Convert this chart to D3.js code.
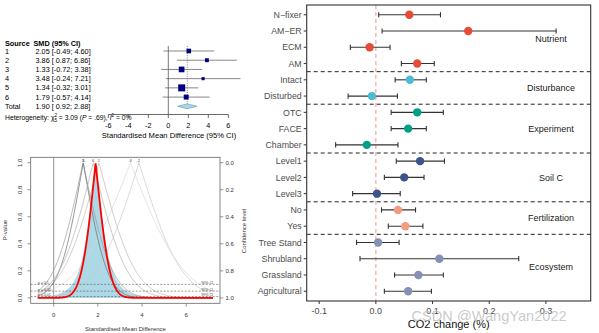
<!DOCTYPE html>
<html>
<head>
<meta charset="utf-8">
<script src="https://cdn.jsdelivr.net/npm/d3@7"></script>
<style>
  html, body { margin: 0; padding: 0; background: #fff; }
  svg { display: block; font-family: "Liberation Sans", Arial, sans-serif; }
</style>
</head>
<body>
<svg id="fig" width="599" height="333"></svg>
<script>
// ---- meta-analysis of six studies (SMD with 95% CI)
const studyLabels = ['1', '2', '3', '4', '5', '6'];
const studySmd  = [2.05, 3.86, 1.33, 3.48, 1.34, 1.79];
const studyLow  = [-0.49, 0.87, -0.72, -0.24, -0.32, -0.57];
const studyHigh = [4.60, 6.86, 3.38, 7.21, 3.01, 4.14];
const pooled = [1.90, 0.92, 2.88];           // estimate, lower, upper
const hetQ = 3.09, hetDf = 5, hetP = '.69', hetI2 = '0%';
const forestTicks = [-6, -4, -2, 0, 2, 4, 6];
const draperyTicks = [0, 2, 4, 6];
const pTicks = [0, 0.2, 0.4, 0.6, 0.8, 1.0];
const pLevels = [0.1, 0.05, 0.01];
const pLevelLabels = ['p = 0.1', 'p = 0.05', 'p = 0.01'];
const ciLevelLabels = ['90% CI', '95% CI', '99% CI'];

// ---- CO2 response by moderator
const categories = ['N\u2212fixer', 'AM\u2212ER', 'ECM', 'AM', 'Intact', 'Disturbed',
  'OTC', 'FACE', 'Chamber', 'Level1', 'Level2', 'Level3', 'No', 'Yes',
  'Tree Stand', 'Shrubland', 'Grassland', 'Agricultural'];
const categoryGroup = [0, 0, 0, 0, 1, 1, 2, 2, 2, 3, 3, 3, 4, 4, 5, 5, 5, 5];
const groupNames = ['Nutrient', 'Disturbance', 'Experiment', 'Soil C', 'Fertilization', 'Ecosystem'];
const groupColors = ['#E64B35', '#4DBBD5', '#00A087', '#3C5488', '#F39B7F', '#8491B4'];
const effect     = [0.059, 0.163, -0.011, 0.073, 0.060, -0.007, 0.073, 0.057, -0.016,
  0.078, 0.050, 0.002, 0.039, 0.052, 0.004, 0.112, 0.075, 0.057];
const effectLow  = [0.005, 0.011, -0.045, 0.045, 0.034, -0.049, 0.027, 0.027, -0.071,
  0.036, 0.015, -0.041, 0.010, 0.022, -0.034, -0.028, 0.033, 0.015];
const effectHigh = [0.114, 0.318, 0.025, 0.103, 0.089, 0.038, 0.119, 0.089, 0.039,
  0.121, 0.085, 0.043, 0.070, 0.083, 0.041, 0.252, 0.119, 0.098];
const effectTicks = [-0.1, 0.0, 0.1, 0.2, 0.3];

const svg = d3.select('#fig');

// standard errors and inverse-variance weights recovered from the CIs
const se = studySmd.map((d, i) => (studyHigh[i] - studyLow[i]) / (2 * 1.96));
const weight = se.map(s => 1 / (s * s));
const pooledSe = (pooled[2] - pooled[1]) / (2 * 1.96);

// ================= forest plot =================
const forest = svg.append('g');
const fx = d3.scaleLinear().domain([-6, 6]).range([108.3, 228.3]);
const fy = d3.scalePoint().domain([...studyLabels, 'Total']).range([51, 106.3]);
const boxSize = d3.scaleSqrt().domain([0, d3.max(weight)]).range([0, 7]);
const fs = 7.3;

forest.append('text').attr('x', 5).attr('y', 45.5)
  .attr('font-size', fs).attr('font-weight', 'bold').text('Source');
forest.append('text').attr('x', 33.5).attr('y', 45.5)
  .attr('font-size', fs).attr('font-weight', 'bold').text('SMD (95% CI)');

const num = v => (v < 0 ? '-' : '\u00a0') + Math.abs(v).toFixed(2);

studyLabels.forEach((s, i) => {
  forest.append('text').attr('x', 5).attr('y', fy(s) + 2.6).attr('font-size', fs).text(s);
  forest.append('text').attr('x', 35.5).attr('y', fy(s) + 2.6).attr('font-size', fs)
    .text(`${studySmd[i].toFixed(2)} [${num(studyLow[i])}; ${studyHigh[i].toFixed(2)}]`);
});
forest.append('text').attr('x', 5).attr('y', fy('Total') + 2.6).attr('font-size', fs).text('Total');
forest.append('text').attr('x', 35.5).attr('y', fy('Total') + 2.6).attr('font-size', fs)
  .text(`${pooled[0].toFixed(2)} [${num(pooled[1])}; ${pooled[2].toFixed(2)}]`);

const het = forest.append('text').attr('x', 5).attr('y', 120).attr('font-size', fs * 0.93);
het.append('tspan').text('Heterogeneity: \u03c7');
het.append('tspan').attr('dy', -2.6).attr('font-size', 4.6).text('2');
het.append('tspan').attr('dx', -2.6).attr('dy', 5).attr('font-size', 4.6).text(hetDf);
het.append('tspan').attr('dy', -2.4).text(` = ${hetQ.toFixed(2)} (`);
het.append('tspan').attr('font-style', 'italic').text('P');
het.append('tspan').text(` = ${hetP}), `);
het.append('tspan').attr('font-style', 'italic').text('I');
het.append('tspan').attr('dy', -2.6).attr('font-size', 4.6).text('2');
het.append('tspan').attr('dy', 2.6).text(' = ' + hetI2);

// reference lines
forest.append('line').attr('x1', fx(0)).attr('x2', fx(0)).attr('y1', 46).attr('y2', 114.5)
  .attr('stroke', '#555').attr('stroke-width', 0.8);
forest.append('line').attr('x1', fx(pooled[0])).attr('x2', fx(pooled[0])).attr('y1', 46).attr('y2', 110)
  .attr('stroke', '#555').attr('stroke-width', 0.7).attr('stroke-dasharray', '1,1.3');

studyLabels.forEach((s, i) => {
  forest.append('line').attr('x1', fx(studyLow[i])).attr('x2', fx(studyHigh[i]))
    .attr('y1', fy(s)).attr('y2', fy(s)).attr('stroke', '#555').attr('stroke-width', 0.7);
  const b = boxSize(weight[i]);
  forest.append('rect').attr('x', fx(studySmd[i]) - b / 2).attr('y', fy(s) - b / 2)
    .attr('width', b).attr('height', b).attr('fill', '#000080');
});

const dy0 = fy('Total');
forest.append('path')
  .attr('d', `M${fx(pooled[1])},${dy0} L${fx(pooled[0])},${dy0 - 2.4} L${fx(pooled[2])},${dy0} L${fx(pooled[0])},${dy0 + 2.4}Z`)
  .attr('fill', '#ADD8E6').attr('stroke', '#6d9fb3').attr('stroke-width', 0.7);

const fAxis = forest.append('g').attr('transform', 'translate(0,114.5)');
fAxis.append('line').attr('x1', fx(-6)).attr('x2', fx(6)).attr('stroke', '#444').attr('stroke-width', 0.8);
forestTicks.forEach(t => {
  fAxis.append('line').attr('x1', fx(t)).attr('x2', fx(t)).attr('y2', 3.5).attr('stroke', '#444').attr('stroke-width', 0.8);
  fAxis.append('text').attr('x', fx(t)).attr('y', 13.5).attr('text-anchor', 'middle')
    .attr('font-size', fs).text(t < 0 ? '-' + Math.abs(t) : t);
});
forest.append('text').attr('x', 169).attr('y', 137.5).attr('text-anchor', 'middle')
  .attr('font-size', 7.6).text('Standardised Mean Difference (95% CI)');

// ================= drapery plot (p-value functions) =================
const drap = svg.append('g');
const x0 = d3.min(studyLow), x1 = d3.max(studyHigh);
const xpad = (x1 - x0) * 0.04;
const dx = d3.scaleLinear().domain([x0 - xpad, x1 + xpad]).range([30.7, 220]);
const dy = d3.scaleLinear().domain([-0.04, 1.04]).range([303.3, 157.3]);

// normal CDF (Abramowitz & Stegun 7.1.26)
function pnorm(z) {
  const t = 1 / (1 + 0.3275911 * Math.abs(z) / Math.SQRT2);
  const y = 1 - (((((1.061405429 * t - 1.453152027) * t) + 1.421413741) * t - 0.284496736) * t + 0.254829592) * t * Math.exp(-z * z / 2);
  return z >= 0 ? 0.5 * (1 + y) : 0.5 * (1 - y);
}
// two-sided p from a t distribution with 4 df (k - 2)
function pt4two(t) {
  const a = Math.abs(t), r = Math.sqrt(1 + a * a / 4);
  return 1 - 0.75 * (a / r) * (1 - a * a / (12 * r * r));
}
const grid = d3.range(x0, x1 + 1e-9, (x1 - x0) / 400);
const curve = d3.line().x(d => dx(d[0])).y(d => dy(d[1]));

// prediction region
const pred = grid.map(x => [x, pt4two((x - pooled[0]) / pooledSe)]);
drap.append('path')
  .attr('d', d3.area().x(d => dx(d[0])).y0(dy(0)).y1(d => dy(d[1]))(pred))
  .attr('fill', '#ADD8E6');

drap.append('line').attr('x1', dx(0)).attr('x2', dx(0)).attr('y1', 157.3).attr('y2', 303.3)
  .attr('stroke', '#aaa').attr('stroke-width', 1.3);

const shade = d3.scaleLinear().domain([0, d3.max(weight)]).range(['#f0f0f0', '#6a6a6a']);
studyLabels.forEach((s, i) => {
  const pts = grid.map(x => [x, 2 * (1 - pnorm(Math.abs(x - studySmd[i]) / se[i]))]);
  drap.append('path').attr('d', curve(pts)).attr('fill', 'none')
    .attr('stroke', shade(weight[i])).attr('stroke-width', 0.7);
  drap.append('text').attr('x', dx(studySmd[i])).attr('y', 162).attr('text-anchor', 'middle')
    .attr('font-size', 4).attr('fill', '#444').text(s);
});

pLevels.forEach((p, i) => {
  drap.append('line').attr('x1', 30.7).attr('x2', 220).attr('y1', dy(p)).attr('y2', dy(p))
    .attr('stroke', '#555').attr('stroke-width', 0.6).attr('stroke-dasharray', '2,1.5');
  drap.append('text').attr('x', dx(x0)).attr('y', dy(p) - 0.6).attr('font-size', 3.6)
    .attr('fill', '#444').text(pLevelLabels[i]);
  drap.append('text').attr('x', dx(x1)).attr('y', dy(p) - 0.6).attr('font-size', 3.6)
    .attr('text-anchor', 'end').attr('fill', '#444').text(ciLevelLabels[i]);
});

const pooledCurve = grid.map(x => [x, 2 * (1 - pnorm(Math.abs(x - pooled[0]) / pooledSe))]);
drap.append('path').attr('d', curve(pooledCurve)).attr('fill', 'none')
  .attr('stroke', '#f00').attr('stroke-width', 1.8);

drap.append('rect').attr('x', 30.7).attr('y', 157.3).attr('width', 189.3).attr('height', 146)
  .attr('fill', 'none').attr('stroke', '#666').attr('stroke-width', 0.8);

const dfs = 6;
draperyTicks.forEach(t => {
  drap.append('line').attr('x1', dx(t)).attr('x2', dx(t)).attr('y1', 303.3).attr('y2', 306.5)
    .attr('stroke', '#666').attr('stroke-width', 0.7);
  drap.append('text').attr('x', dx(t)).attr('y', 317).attr('text-anchor', 'middle')
    .attr('font-size', dfs).attr('fill', '#333').text(t);
});
pTicks.forEach(t => {
  drap.append('line').attr('x1', 30.7).attr('x2', 27.5).attr('y1', dy(t)).attr('y2', dy(t))
    .attr('stroke', '#666').attr('stroke-width', 0.7);
  drap.append('text').attr('transform', `translate(22,${dy(t)}) rotate(-90)`)
    .attr('text-anchor', 'middle').attr('font-size', dfs).attr('fill', '#333').text(t.toFixed(1));
  drap.append('line').attr('x1', 220).attr('x2', 223.3).attr('y1', dy(1 - t)).attr('y2', dy(1 - t))
    .attr('stroke', '#666').attr('stroke-width', 0.7);
  drap.append('text').attr('x', 225.5).attr('y', dy(1 - t) + 2.1)
    .attr('font-size', dfs).attr('fill', '#333').text(t.toFixed(1));
});
drap.append('text').attr('x', 125.5).attr('y', 331).attr('text-anchor', 'middle')
  .attr('font-size', dfs).attr('fill', '#333').text('Standardised Mean Difference');
drap.append('text').attr('transform', 'translate(7,230) rotate(-90)')
  .attr('text-anchor', 'middle').attr('font-size', dfs).attr('fill', '#333').text('P-value');
drap.append('text').attr('transform', 'translate(246,231) rotate(-90)')
  .attr('text-anchor', 'middle').attr('font-size', dfs).attr('fill', '#333').text('Confidence level');

// ================= CO2 change by moderator =================
const eg = svg.append('g');
const plotL = 306.7, plotR = 590.7, plotT = 5, plotB = 301;
const ex = d3.scaleLinear().domain([-0.122, 0.379]).range([plotL, plotR]);
const ey = d3.scalePoint().domain(categories).range([plotT, plotB]).padding(0.6);

// zero reference
eg.append('line').attr('x1', ex(0)).attr('x2', ex(0)).attr('y1', plotT).attr('y2', plotB)
  .attr('stroke', '#F4A3A3').attr('stroke-width', 1.2).attr('stroke-dasharray', '4,3');

// separators between moderator groups
for (let i = 1; i < categories.length; i++) {
  if (categoryGroup[i] !== categoryGroup[i - 1]) {
    const yy = (ey(categories[i]) + ey(categories[i - 1])) / 2;
    eg.append('line').attr('x1', plotL).attr('x2', plotR).attr('y1', yy).attr('y2', yy)
      .attr('stroke', '#222').attr('stroke-width', 1).attr('stroke-dasharray', '4,3');
  }
}

categories.forEach((c, i) => {
  const yy = ey(c);
  eg.append('line').attr('x1', ex(effectLow[i])).attr('x2', ex(effectHigh[i])).attr('y1', yy).attr('y2', yy)
    .attr('stroke', '#333').attr('stroke-width', 1.1);
  [effectLow[i], effectHigh[i]].forEach(v => {
    eg.append('line').attr('x1', ex(v)).attr('x2', ex(v)).attr('y1', yy - 2.6).attr('y2', yy + 2.6)
      .attr('stroke', '#333').attr('stroke-width', 1.1);
  });
  eg.append('circle').attr('cx', ex(effect[i])).attr('cy', yy).attr('r', 4.2)
    .attr('fill', groupColors[categoryGroup[i]]);
});

groupNames.forEach((g, gi) => {
  const ys = categories.filter((c, i) => categoryGroup[i] === gi).map(c => ey(c));
  eg.append('text').attr('x', 551).attr('y', d3.mean(ys) + 3.3).attr('text-anchor', 'middle')
    .attr('font-size', 9).attr('fill', '#1a1a1a').text(g);
});

eg.append('rect').attr('x', plotL).attr('y', plotT).attr('width', plotR - plotL).attr('height', plotB - plotT)
  .attr('fill', 'none').attr('stroke', '#333').attr('stroke-width', 1.1);

categories.forEach(c => {
  eg.append('line').attr('x1', plotL - 3).attr('x2', plotL).attr('y1', ey(c)).attr('y2', ey(c))
    .attr('stroke', '#333').attr('stroke-width', 1);
  eg.append('text').attr('x', plotL - 5).attr('y', ey(c) + 3.2).attr('text-anchor', 'end')
    .attr('font-size', 8.8).attr('fill', '#4D4D4D').text(c);
});
effectTicks.forEach(t => {
  eg.append('line').attr('x1', ex(t)).attr('x2', ex(t)).attr('y1', plotB).attr('y2', plotB + 3)
    .attr('stroke', '#333').attr('stroke-width', 1);
  eg.append('text').attr('x', ex(t)).attr('y', plotB + 12.5).attr('text-anchor', 'middle')
    .attr('font-size', 9).attr('fill', '#4D4D4D').text(t.toFixed(1));
});
eg.append('text').attr('x', (plotL + plotR) / 2).attr('y', 328).attr('text-anchor', 'middle')
  .attr('font-size', 11).attr('fill', '#111').text('CO2 change (%)');

svg.append('text').attr('x', 411.5).attr('y', 321).attr('font-size', 14.6)
  .attr('fill', '#bdbdbd').attr('fill-opacity', 0.8).text('CSDN @WangYan2022');
</script>
</body>
</html>
